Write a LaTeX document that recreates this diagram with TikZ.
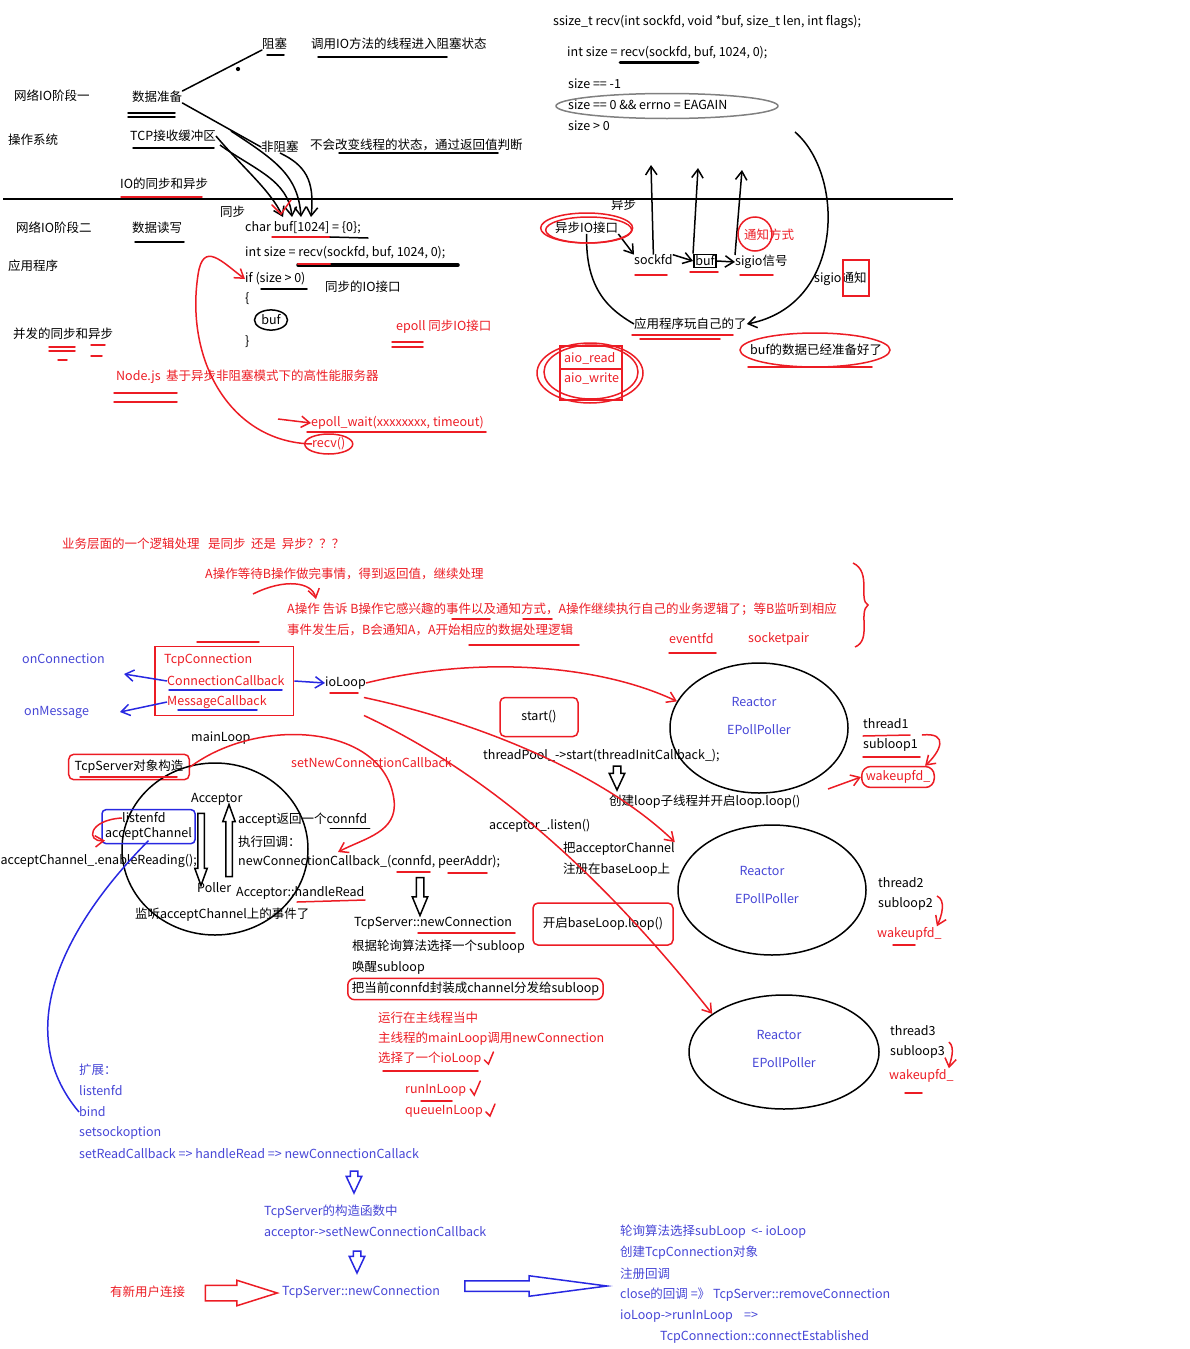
\documentclass[tikz,border=0pt]{standalone}
\usepackage{fontspec}
\setmainfont{Noto Sans CJK SC}
\usetikzlibrary{positioning, calc, arrows.meta, shapes.geometric, shapes.arrows, fit}
\definecolor{inkred}{RGB}{236,28,36}
\definecolor{inkblue}{RGB}{70,70,214}
\definecolor{penblue}{RGB}{40,40,225}
\tikzset{
thin/.style = {line width = 0.9pt},
thick/.style = {line width = 1.5pt},
very thick/.style = {line width = 2.2pt},
txt/.style = {inner sep = 0pt, anchor = west},
rtxt/.style = {txt, text = inkred},
btxt/.style = {txt, text = inkblue},
rbox/.style = {draw = inkred, thick, rounded corners = 5pt, inner sep = 5pt},
bbox/.style = {draw = penblue, thick, rounded corners = 4pt, inner sep = 3pt},
loopnode/.style = {ellipse, draw, thick, inner sep = 0pt},
reactor/.style = {loopnode, minimum width = 182pt, minimum height = 130pt},
flow/.style = {-{Straight Barb[length = 3mm, width = 4mm]}, thick},
redflow/.style = {flow, draw = inkred},
blueflow/.style = {flow, draw = penblue},
hollow/.style = {single arrow, draw, thick, inner xsep = 0pt, inner ysep = 3pt,
   single arrow head extend = 4pt, single arrow tip angle = 50, minimum width = 0pt},
inkline/.style = {thick, line cap = round},
redline/.style = {inkline, draw = inkred},
blueline/.style = {inkline, draw = penblue}
}

\begin{document}
\begin{tikzpicture}[x = 1pt, y = -1pt, font = \fontsize{12.5}{15}\selectfont]
\useasboundingbox (0,0) rectangle (1190,1349);

%%%% IO stages
%% Stage one
\node [txt] (stage1) at (14,96) {网络IO阶段一};
\node [txt] (prep) at (132,97) {数据准备};
\node [txt] (os) at (8,140) {操作系统};
\node [txt] (tcpbuf) at (130,136) {TCP接收缓冲区};
\node [txt] (blk) at (262,44) {阻塞};
\node [txt] (blkdesc) at (311,44) {调用IO方法的线程进入阻塞状态};
\node [txt] (nonblk) at (261,147) {非阻塞};
\node [txt] (nonblkdesc) at (310,145) {不会改变线程的状态，通过返回值判断};
\node [txt] (ioasync) at (120,184) {IO的同步和异步};
\node [circle, fill, inner sep = 1.5pt] (dot) at (238,69) {};

\path [inkline] (prep.north east) edge (blk.south west);
\path [inkline] (prep.south east) edge (nonblk.west);

\draw [inkline] (267,55) -- (284,55);
\draw [inkline] (318,57) -- (447,57);
\draw [inkline] (128,113) -- (175,113);
\draw [inkline] (128,117) -- (175,117);
\draw [inkline] (133,148) -- (214,148);
\draw [inkline] (339,153) -- (498,153);
\draw [redline] (121,197) -- (202,197);

\draw [very thick] (3,199) -- (953,199);

%% Stage two
\node [txt] (sync) at (220,212) {同步};
\node [txt] (stage2) at (16,228) {网络IO阶段二};
\node [txt] (rw) at (132,228) {数据读写};
\node [txt] (app) at (8,266) {应用程序};
\node [txt] (code1) at (245,228) {char buf[1024] = \{0\};};
\node [txt] (code2) at (245,253) {int size = recv(sockfd, buf, 1024, 0);};
\node [txt] (code3) at (245,279) {if (size > 0)};
\node [txt] (syncapi) at (325,287) {同步的IO接口};
\node [txt] (lbrace) at (245,299) {\{};
\node [loopnode, inner sep = 2pt] (bufa) at (271,320) {buf};
\node [txt] (rbrace) at (245,342) {\}};
\node [txt] (concur) at (13,334) {并发的同步和异步};
\node [rtxt] (epollsync) at (396,327) {epoll 同步IO接口};
\node [rtxt] (nodejs) at (116,377) {Node.js\ \ 基于异步非阻塞模式下的高性能服务器};
\node [rtxt] (epollwait) at (311,423) {epoll\_wait(xxxxxxxx, timeout)};
\node [rtxt] (recvb) at (312,444) {recv()};

\coordinate (tip1) at (283,217);
\coordinate (tip2) at (292,217);
\coordinate (tip3) at (301,217);
\coordinate (tip4) at (311,217);
\draw [flow] (tcpbuf.east) .. controls (245,170) and (270,190) .. (tip1);
\draw [flow] ($(tcpbuf.east)+(4,9)$) .. controls (255,170) and (288,180) .. (tip2);
\draw [flow] ($(tcpbuf.east)+(15,-5)$) .. controls (275,160) and (298,175) .. (tip3);
\draw [flow] (nonblk.south) .. controls (305,165) and (315,180) .. (tip4);
\draw [redline] (272,205) -- (281,214) -- (291,200);

\coordinate (ewin) at (278,419);
\draw [redflow] (ewin) -- (epollwait.west);
\draw [redflow] (recvb.west) .. controls (230,442) and (185,360) .. (198,275)
   .. controls (203,240) and (222,262) .. (code3.west);
\draw [inkred, thick] (recvb.center) ellipse (24 and 10);

\draw [inkline] (135,242) -- (184,242);
\draw [redline] (272,237) -- (330,237);
\draw [inkline] (330,237) -- (368,238);
\draw [inkline, line width = 3.5pt] (298,265) -- (458,265);
\draw [redline, line width = 2.5pt] (298,264) -- (330,264);
\draw [inkline] (261,289) -- (307,289);
\draw [redline] (49,347) -- (75,347);
\draw [redline] (49,351) -- (75,351);
\draw [redline] (58,360) -- (67,360);
\draw [redline] (91,345) -- (105,345);
\draw [redline] (91,356) -- (102,356);
\draw [redline] (392,342) -- (423,342);
\draw [redline] (392,347) -- (423,347);
\draw [redline] (114,393) -- (177,393);
\draw [redline] (114,402) -- (177,402);
\draw [redline] (307,432) -- (486,432);

%%%% recv return values
\node [txt] (proto) at (553,22) {ssize\_t recv(int sockfd, void *buf, size\_t len, int flags);};
\node [txt] (call) at (567,53) {int size = recv(sockfd, buf, 1024, 0);};
\node [txt] (ret1) at (568,84) {size == -1};
\node [txt] (ret2) at (568,105) {size == 0 \&\& errno = EAGAIN};
\node [txt] (ret3) at (568,126) {size > 0};
\draw [gray, thick] (667,106) ellipse (111 and 12.5);
\draw [inkline, line width = 3pt] (620,62) -- (698,62);

%% Async interface
\node [txt] (async) at (611,205) {异步};
\node [txt] (asyncapi) at (555,228) {异步IO接口};
\node [txt] (sockfd) at (634,260) {sockfd};
\node [draw, thick, inner sep = 1.5pt] (bufb) at (705,261) {buf};
\node [txt] (sigio) at (735,262) {sigio信号};
\node [rtxt] (notify) at (744,235) {通知方式};
\node [txt] (sigionote) at (814,279) {sigio通知};
\node [txt] (selfplay) at (634,324) {应用程序玩自己的了};
\node [txt] (ready) at (750,350) {buf的数据已经准备好了};
\node [rtxt] (aioread) at (564,358) {aio\_read};
\node [rtxt] (aiowrite) at (564,379) {aio\_write};

\coordinate (up1) at (651,165);
\coordinate (up2) at (698,168);
\coordinate (up3) at (742,170);
\coordinate (sigtop) at (795,132);
\draw [flow] (sockfd.north) -- (up1);
\draw [flow] (bufb.north west) -- (up2);
\draw [flow] (sigio.north west) -- (up3);
\draw [flow] (asyncapi.south east) -- (sockfd.north west);
\draw [flow] (sockfd.north east) -- (bufb.west);
\draw [flow] (bufb.east) -- (sigio.west);
\draw [thick] (asyncapi.south) .. controls (585,290) and (610,310) .. (selfplay.west);
\draw [flow] (sigtop) .. controls (845,175) and (845,305) .. (selfplay.east);

\draw [inkred, thick] (asyncapi.center) ellipse (46 and 15);
\draw [inkred, thick] ($(asyncapi.center)+(2,2)$) ellipse (43 and 13);
\draw [inkred, thick] (755,234) circle (17);
\draw [inkred, thick] (843,260) rectangle (869,296);
\draw [inkred, thick] (815,350) ellipse (75 and 17);
\draw [inkred, thick] (560,346) rectangle (622,400);
\draw [inkred, thick] (560,369) -- (622,369);
\draw [inkred, thick] (590,373) ellipse (53 and 30);
\draw [inkred, thick] (591,372) ellipse (47 and 27);
\draw [redline] (635,275) -- (667,275);
\draw [redline] (690,272) -- (718,272);
\draw [redline] (740,275) -- (773,275);
\draw [redline] (632,335) -- (733,335);
\draw [redline] (640,339) -- (720,339);
\draw [redline] (748,367) -- (872,367);

%%%% Sync or async in business logic
\node [rtxt] (question) at (62,544) {业务层面的一个逻辑处理\ \ \ 是同步\ \ 还是\ \ 异步？？？};
\node [rtxt] (syncdef) at (205,574) {A操作等待B操作做完事情，得到返回值，继续处理};
\node [rtxt] (asyncdef1) at (287,609) {A操作 告诉 B操作它感兴趣的事件以及通知方式，A操作继续执行自己的业务逻辑了；等B监听到相应};
\node [rtxt] (asyncdef2) at (287,630) {事件发生后，B会通知A，A开始相应的数据处理逻辑};
\node [rtxt] (eventfd) at (669,639) {eventfd};
\node [rtxt] (socketpair) at (748,639) {socketpair};

\coordinate (arcstart) at (253,594);
\coordinate (arcend) at (316,599);
\draw [redflow] (arcstart) .. controls (285,578) and (312,582) .. (arcend);
\draw [inkred, thick] (853,563) .. controls (872,572) and (858,600) .. (868,605)
   .. controls (858,612) and (872,640) .. (855,647);
\draw [redline] (452,619) -- (490,619);
\draw [redline] (523,619) -- (552,619);
\draw [redline] (469,645) -- (579,645);
\draw [redline] (669,653) -- (716,653);

%%%% TcpConnection and the reactors
\node [rtxt] (tcpconn) at (164,660) {TcpConnection};
\node [rtxt] (conncb) at (167,681) {ConnectionCallback};
\node [rtxt] (msgcb) at (167,702) {MessageCallback};
\node [draw = inkred, thick, inner sep = 0pt, fit = (tcpconn)(conncb)(msgcb),
   inner xsep = 9pt, inner ysep = 7pt] (connbox) {};
\node [btxt] (onconn) at (22,659) {onConnection};
\node [btxt] (onmsg) at (24,712) {onMessage};
\node [txt] (ioloop) at (325,683) {ioLoop};

\coordinate (onconntip) at (124,674);
\coordinate (onmsgtip) at (120,712);
\draw [blueflow] (conncb.west) -- (onconntip);
\draw [blueflow] (msgcb.west) -- (onmsgtip);
\draw [blueflow] (conncb.east -| connbox.east) -- (ioloop.west);
\draw [redline] (197,642) -- (259,642);
\draw [blueline] (169,690) -- (282,690);
\draw [blueline] (178,710) -- (257,710);
\draw [redline] (330,693) -- (358,693);

%% Thread pool
\node [rbox, minimum width = 78pt, minimum height = 39pt] (start) at (539,717) {start()};
\node [txt] (poolstart) at (483,756) {threadPool\_->start(threadInitCallback\_);};
\node [hollow, rotate = -90, minimum height = 24pt] (down2) at (617,774) {};
\node [txt] (mkloop) at (609,802) {创建loop子线程并开启loop.loop()};
\node [txt] (listen) at (489,826) {acceptor\_.listen()};
\node [txt] (accch) at (563,849) {把acceptorChannel};
\node [txt] (regbase) at (563,870) {注册在baseLoop上};
\node [rbox, minimum width = 140pt, minimum height = 42pt] (baseloop) at (603,924) {开启baseLoop.loop()};

%% Reactors
\node [reactor, minimum width = 178pt] (r1) at (759,728) {};
\node [btxt, anchor = center] (r1name) at (754,702) {Reactor};
\node [btxt, anchor = center] (r1poll) at (759,730) {EPollPoller};
\node [txt] (thread1) at (863,724) {thread1};
\node [txt] (subloop1) at (863,745) {subloop1};
\node [rtxt, draw = inkred, thick, rounded corners = 9pt, inner sep = 4pt] (wake1) at (861,777) {wakeupfd\_};

\node [reactor, minimum width = 188pt] (r2) at (772,890) {};
\node [btxt, anchor = center] (r2name) at (762,871) {Reactor};
\node [btxt, anchor = center] (r2poll) at (767,899) {EPollPoller};
\node [txt] (thread2) at (878,883) {thread2};
\node [txt] (subloop2) at (878,904) {subloop2};
\node [rtxt] (wake2) at (877,934) {wakeupfd\_};

\node [reactor, minimum width = 190pt, minimum height = 114pt] (r3) at (784,1052) {};
\node [btxt, anchor = center] (r3name) at (779,1035) {Reactor};
\node [btxt, anchor = center] (r3poll) at (784,1063) {EPollPoller};
\node [txt] (thread3) at (890,1031) {thread3};
\node [txt] (subloop3) at (890,1052) {subloop3};
\node [rtxt] (wake3) at (889,1076) {wakeupfd\_};

\coordinate (wk1in) at (828,789);
\draw [redflow] (wk1in) -- (wake1.west);
\draw [redflow] ($(subloop1.east)+(4,-10)$) .. controls (950,732) and (940,752) .. ($(wake1.north east)+(-10,0)$);
\draw [redflow] ($(subloop2.east)+(4,-8)$) .. controls (946,900) and (942,915) .. ($(wake2.north east)+(-5,-1)$);
\draw [redflow] ($(subloop3.east)+(4,-10)$) .. controls (956,1048) and (950,1062) .. ($(wake3.north east)+(-5,-1)$);
\draw [redline] (863,736) -- (910,735);
\draw [redline] (863,757) -- (920,757);
\draw [redline] (893,945) -- (915,945);
\draw [redline] (905,1093) -- (922,1093);

\draw [redflow] (ioloop.east) .. controls (480,655) and (600,665) .. (r1.162);
\draw [redflow] ($(ioloop.south east)+(-2,8)$) .. controls (470,720) and (600,770) .. (accch.north east);
\draw [redflow] ($(ioloop.south east)+(-2,26)$) .. controls (480,770) and (590,860) .. (r3.152);

%% Acceptor in the main loop
\node [txt] (mainloop) at (191,738) {mainLoop};
\node [rbox, inner sep = 6pt] (server) at (129,767) {TcpServer对象构造};
\node [rtxt] (setcb) at (291,763) {setNewConnectionCallback};
\node [loopnode, minimum width = 186pt, minimum height = 172pt] (acc) at (215,849) {};
\node [txt] (acceptor) at (191,799) {Acceptor};
\node [txt] (listenfd) at (122,818) {listenfd};
\node [txt] (accch0) at (105,834) {acceptChannel};
\node [bbox, fit = (listenfd)(accch0)] (chanbox) {};
\node [txt, anchor = east] (enable) at (197,861) {acceptChannel\_.enableReading();};
\node [txt] (accret) at (238,820) {accept返回一个connfd};
\node [txt] (exec) at (238,842) {执行回调：};
\node [txt] (newcb) at (238,862) {newConnectionCallback\_(connfd, peerAddr);};
\node [txt] (poller) at (197,888) {Poller};
\node [txt] (handle) at (236,893) {Acceptor::handleRead};
\node [txt] (watch) at (135,915) {监听acceptChannel上的事件了};
\node [hollow, rotate = -90, minimum height = 72pt, single arrow tip angle = 40,
   inner ysep = 2.5pt, single arrow head extend = 3pt] (pdown) at (201,845) {};
\node [hollow, rotate = 90, minimum height = 72pt, single arrow tip angle = 40,
   inner ysep = 2.5pt, single arrow head extend = 3pt] (pup) at (229,845) {};

\coordinate (cbtip) at (338,852);
\draw [redflow] (server.east) .. controls (260,715) and (385,725) .. (394,800)
   .. controls (398,832) and (365,838) .. (cbtip);
\draw [redflow] (listenfd.west) .. controls (88,820) and (86,842) .. (accch0.south west);
\draw [redline] (80,777) -- (177,777);
\draw [inkline, thin] (330,828) -- (370,828);
\draw [redline] (297,902) -- (365,900);
\draw [redline] (397,872) -- (430,872);
\draw [redline] (448,873) -- (487,873);

%% New connection in the main loop
\node [hollow, rotate = -90, minimum height = 38pt, single arrow tip angle = 45] (down1) at (420,892) {};
\node [txt] (newconn) at (354,923) {TcpServer::newConnection};
\node [txt] (pick) at (352,947) {根据轮询算法选择一个subloop};
\node [txt] (wakeup) at (352,968) {唤醒subloop};
\node [rbox, rounded corners = 7pt, anchor = west, inner sep = 4pt] (dispatch) at (347,989) {把当前connfd封装成channel分发给subloop};
\node [rtxt] (run1) at (378,1018) {运行在主线程当中};
\node [rtxt] (run2) at (378,1039) {主线程的mainLoop调用newConnection};
\node [rtxt] (run3) at (378,1059) {选择了一个ioLoop};
\node [rtxt] (runin) at (405,1090) {runInLoop};
\node [rtxt] (queuein) at (405,1111) {queueInLoop};
\draw [redline] (418,933) -- (515,933);
\draw [redline] (383,1071) -- (478,1071);
\draw [redline] (421,1101) -- (452,1101);
\draw [redline] ($(run3.east)+(3,1)$) -- ++(4,4) -- ++(5,-12);
\draw [redline] ($(runin.east)+(4,-1)$) -- ++(4,6) -- ++(6,-14);
\draw [redline] ($(queuein.east)+(3,1)$) -- ++(4,4) -- ++(5,-12);

%%%% Summary
\node [btxt] (ext) at (79,1070) {扩展：};
\node [btxt] (lfd) at (79,1091) {listenfd};
\node [btxt] (bind) at (79,1112) {bind};
\node [btxt] (sockopt) at (79,1133) {setsockoption};
\node [btxt] (readcb) at (79,1154) {setReadCallback => handleRead => newConnectionCallack};
\node [hollow, draw = penblue, rotate = -90, minimum height = 22pt] (bdown1) at (354,1178) {};
\node [btxt] (ctor) at (264,1212) {TcpServer的构造函数中};
\node [btxt] (setnew) at (264,1233) {acceptor->setNewConnectionCallback};
\node [hollow, draw = penblue, rotate = -90, minimum height = 22pt] (bdown2) at (357,1258) {};
\node [rtxt] (newuser) at (110,1292) {有新用户连接};
\node [hollow, draw = inkred, minimum height = 72pt, inner ysep = 7pt,
   single arrow head extend = 5pt, single arrow tip angle = 35] (rright) at (229,1293) {};
\node [btxt] (newconn2) at (282,1292) {TcpServer::newConnection};
\node [hollow, draw = penblue, minimum height = 142pt, inner ysep = 4.5pt,
   single arrow head extend = 5pt, single arrow tip angle = 15] (bright) at (516,1286) {};
\node [btxt] (step1) at (620,1232) {轮询算法选择subLoop\ \ <- ioLoop};
\node [btxt] (step2) at (620,1253) {创建TcpConnection对象};
\node [btxt] (step3) at (620,1274) {注册回调};
\node [btxt] (step4) at (620,1295) {close的回调 =》 TcpServer::removeConnection};
\node [btxt] (step5) at (620,1316) {ioLoop->runInLoop\ \ \ \ =>};
\node [btxt] (step6) at (660,1337) {TcpConnection::connectEstablished};

%% Channel to the extension list
\draw [penblue, thick] (accch0.south) .. controls (65,925) and (10,1030) .. (bind.west);

\end{tikzpicture}
\end{document}
